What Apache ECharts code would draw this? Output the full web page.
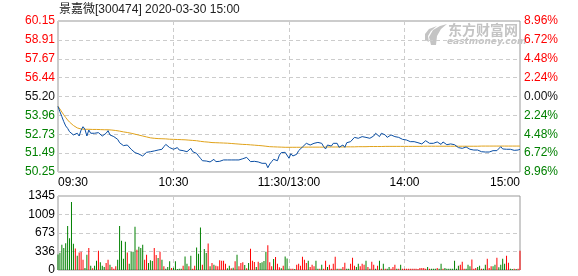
<!DOCTYPE html>
<html><head><meta charset="utf-8">
<script src="https://cdn.jsdelivr.net/npm/echarts@6.0.0/dist/echarts.min.js"></script>
<style>html,body{margin:0;padding:0;background:#fff}#c{width:578px;height:276px}</style>
</head><body><div id="c"></div>
<script>
const titleText = '景嘉微[300474] 2020-03-30 15:00';
const timeLabels = ['09:30', '10:30', '11:30/13:00', '14:00', '15:00'];
const priceLabels = ['50.25', '51.49', '52.73', '53.96', '55.20', '56.44', '57.67', '58.91', '60.15'];
const pctLabels = ['8.96%', '6.72%', '4.48%', '2.24%', '0.00%', '2.24%', '4.48%', '6.72%', '8.96%'];
const volLabels = ['0', '336', '673', '1009', '1345'];
const priceMin = 50.25, priceMax = 60.15, priceStep = 1.2375;
const volMax = 1345, volStep = 336.25;

// minute-by-minute last price (09:30 .. 15:00, 241 points)
const price = [
54.55,54.20,53.88,53.55,53.27,53.11,52.89,52.96,52.68,52.57,
52.79,52.61,53.00,53.22,53.05,52.61,53.00,52.79,52.83,52.79,
52.74,52.83,52.74,52.61,52.72,52.79,52.96,52.68,52.68,52.57,
52.52,52.39,52.17,52.06,51.98,52.09,52.02,51.91,51.74,51.63,
51.52,51.54,51.43,51.36,51.30,51.43,51.54,51.65,51.58,51.58,
51.63,51.58,51.69,51.69,51.74,51.91,52.06,51.95,51.85,51.91,
51.74,51.69,51.85,51.69,51.80,51.65,51.74,51.58,51.69,51.80,
51.58,51.58,51.47,51.30,51.15,50.99,50.93,50.97,50.86,50.91,
50.82,51.08,50.93,50.99,50.95,50.99,51.04,51.08,51.04,50.99,
51.04,50.97,51.04,50.99,51.04,50.99,51.12,51.25,51.21,51.08,
50.93,50.99,50.95,50.97,50.91,50.93,50.82,50.86,50.82,50.53,
50.77,50.93,51.08,51.21,50.99,51.36,51.52,51.52,51.54,51.55,
51.15,51.45,51.30,51.21,51.41,51.65,51.74,51.89,52.02,52.13,
52.17,52.02,51.91,52.13,52.22,52.19,52.17,52.13,51.91,51.76,
52.02,52.13,51.95,52.13,52.17,52.13,51.87,51.91,52.02,51.87,
52.17,52.19,52.24,52.35,52.52,52.57,52.46,52.52,52.57,52.61,
52.52,52.65,52.46,52.52,52.61,52.79,52.72,52.57,52.79,52.74,
52.68,52.52,52.57,52.68,52.61,52.57,52.50,52.52,52.46,52.39,
52.35,52.35,52.39,52.24,52.17,52.24,52.19,52.17,52.13,52.09,
52.17,52.30,52.19,52.13,52.17,52.13,52.04,52.22,52.30,52.06,
52.22,52.13,52.04,52.17,52.09,52.04,52.04,51.91,51.85,51.80,
51.80,51.82,51.89,51.80,51.74,51.80,51.69,51.74,51.69,51.69,
51.58,51.63,51.56,51.47,51.56,51.56,51.65,51.69,51.65,51.78,
51.91,51.76,51.78,51.74,51.69,51.74,51.69,51.67,51.74,51.69,
51.74
];

// minute-by-minute average price
const avgPrice = [
54.55,54.38,54.18,54.00,53.82,53.66,53.52,53.40,53.30,53.21,
53.14,53.10,53.07,53.06,53.05,53.05,53.05,53.05,53.04,53.04,
53.04,53.03,53.03,53.03,53.02,53.02,53.02,53.01,53.00,52.99,
52.97,52.95,52.93,52.91,52.88,52.86,52.84,52.82,52.79,52.76,
52.73,52.70,52.67,52.64,52.61,52.58,52.55,52.52,52.49,52.47,
52.46,52.45,52.44,52.43,52.43,52.42,52.42,52.41,52.40,52.40,
52.39,52.39,52.38,52.38,52.37,52.36,52.36,52.35,52.34,52.33,
52.32,52.31,52.30,52.28,52.26,52.24,52.23,52.22,52.21,52.19,
52.18,52.17,52.17,52.16,52.16,52.15,52.15,52.14,52.14,52.13,
52.12,52.11,52.10,52.09,52.08,52.07,52.06,52.06,52.05,52.04,
52.03,52.02,52.01,52.00,51.99,51.98,51.97,51.96,51.94,51.93,
51.91,51.90,51.90,51.89,51.89,51.88,51.88,51.88,51.87,51.87,
51.87,51.87,51.87,51.87,51.87,51.87,51.87,51.87,51.88,51.88,
51.88,51.88,51.88,51.88,51.88,51.88,51.88,51.88,51.88,51.88,
51.89,51.89,51.89,51.89,51.89,51.89,51.89,51.89,51.89,51.89,
51.90,51.90,51.90,51.90,51.90,51.91,51.91,51.91,51.91,51.91,
51.91,51.91,51.92,51.92,51.92,51.92,51.92,51.92,51.92,51.92,
51.93,51.93,51.93,51.93,51.93,51.93,51.93,51.93,51.93,51.93,
51.93,51.93,51.93,51.93,51.93,51.93,51.93,51.93,51.93,51.93,
51.94,51.94,51.94,51.94,51.94,51.94,51.94,51.94,51.94,51.94,
51.94,51.94,51.94,51.94,51.94,51.94,51.94,51.94,51.94,51.94,
51.94,51.94,51.94,51.94,51.94,51.94,51.94,51.94,51.94,51.94,
51.95,51.95,51.95,51.95,51.95,51.95,51.95,51.95,51.95,51.95,
51.95,51.95,51.95,51.95,51.95,51.95,51.95,51.95,51.95,51.95,
51.95
];

// minute volume (lots)
const volume = [
280,314,458,398,488,802,579,1236,476,392,
259,320,332,187,36,277,398,78,30,78,
169,350,139,78,54,127,187,96,54,24,
66,187,802,530,205,512,320,115,332,332,
784,368,422,398,458,187,277,127,175,163,
398,271,217,332,187,66,24,54,157,36,
42,157,18,24,24,78,247,115,66,259,
24,78,410,295,772,96,380,307,482,66,
127,96,78,66,175,169,169,115,30,78,
30,42,157,277,66,127,139,90,30,127,
386,169,145,54,151,127,139,163,332,452,
139,66,199,235,115,48,30,78,247,211,
24,24,24,18,96,115,78,241,187,127,
169,54,96,66,169,24,24,96,24,169,
54,96,24,115,241,24,24,24,54,133,
24,24,115,223,78,54,115,66,115,96,
169,54,24,151,96,24,78,169,24,115,
24,24,54,24,54,96,24,24,96,24,
24,24,24,24,24,24,24,18,36,36,
36,24,54,24,24,24,24,36,24,115,
24,36,24,24,24,24,169,24,78,96,
151,24,24,96,66,193,24,36,54,78,
24,24,96,205,36,66,66,96,223,48,
96,205,115,259,133,24,18,24,18,24,
350
];
// 1 = up (red), -1 = down (green)
const volDir = [
-1,-1,-1,-1,-1,-1,-1,-1,-1,1,
-1,1,1,1,-1,-1,1,-1,1,-1,
-1,1,-1,-1,-1,1,1,-1,1,1,
1,-1,-1,-1,-1,-1,1,-1,-1,-1,
-1,1,-1,-1,-1,1,1,-1,-1,-1,
1,1,-1,1,-1,1,-1,-1,-1,1,
-1,-1,-1,-1,-1,1,-1,-1,1,-1,
1,1,-1,-1,-1,1,-1,-1,1,-1,
1,-1,1,1,1,1,1,1,-1,-1,
1,-1,1,-1,1,1,1,-1,1,-1,
1,1,1,-1,1,-1,-1,-1,-1,1,
1,1,-1,1,1,1,-1,1,-1,-1,
-1,1,1,-1,1,1,1,1,1,1,
-1,1,1,1,-1,-1,1,-1,1,1,
-1,1,1,1,1,-1,1,-1,1,1,
-1,-1,1,1,1,-1,-1,1,1,1,
-1,1,-1,1,1,-1,1,-1,1,-1,
1,-1,-1,1,1,1,-1,1,-1,1,
1,1,1,1,1,1,1,1,1,1,
1,1,-1,1,-1,-1,-1,1,-1,-1,
1,-1,-1,-1,-1,-1,-1,-1,-1,1,
1,1,-1,-1,-1,1,1,1,-1,-1,
1,-1,-1,1,1,1,-1,-1,1,-1,
-1,-1,-1,1,1,-1,-1,1,-1,1,
1
];

const RED = '#ff0000', GREEN = '#008000', DARK = '#111111';
const FONT = 'Arial, "Liberation Sans", "Noto Sans CJK SC", sans-serif';
const chart = echarts.init(document.getElementById('c'), null, {renderer: 'canvas'});

function pIdx(v) { return Math.round((v - priceMin) / priceStep); }
function rich() {
  return {
    r: {color: RED, fontSize: 12, fontFamily: FONT},
    g: {color: GREEN, fontSize: 12, fontFamily: FONT},
    d: {color: DARK, fontSize: 12, fontFamily: FONT}
  };
}
function tag(i) { return i > 4 ? 'r' : (i < 4 ? 'g' : 'd'); }

const splitDash = {show: true, lineStyle: {color: '#cccccc', type: [4, 3], width: 1}};

chart.setOption({
  animation: false,
  textStyle: {fontFamily: FONT},
  grid: [
    {left: 58, top: 21, width: 462, height: 151, show: true, borderColor: '#999999', borderWidth: 1, backgroundColor: 'transparent'},
    {left: 58, top: 196, width: 462, height: 74, show: true, borderColor: '#999999', borderWidth: 1, backgroundColor: 'transparent'}
  ],
  xAxis: [
    {type: 'value', gridIndex: 0, min: 0, max: 240, interval: 60,
     axisLine: {show: false}, axisTick: {show: false},
     splitLine: splitDash,
     axisLabel: {show: true, margin: 5, color: '#000', fontSize: 12, fontFamily: FONT,
       alignMinLabel: 'left', alignMaxLabel: 'right',
       formatter: (v) => timeLabels[Math.round(v / 60)]}},
    {type: 'value', gridIndex: 1, min: 0, max: 240, interval: 60,
     axisLine: {show: false}, axisTick: {show: false},
     splitLine: splitDash, axisLabel: {show: false}}
  ],
  yAxis: [
    {type: 'value', gridIndex: 0, min: priceMin, max: priceMax, interval: priceStep,
     axisLine: {show: false}, axisTick: {show: false}, splitLine: splitDash,
     axisLabel: {margin: 3, rich: rich(),
       formatter: (v) => { const i = pIdx(v); return '{' + tag(i) + '|' + priceLabels[i] + '}'; }}},
    {type: 'value', gridIndex: 0, position: 'right', min: priceMin, max: priceMax, interval: priceStep,
     axisLine: {show: false}, axisTick: {show: false}, splitLine: {show: false},
     axisLabel: {margin: 4, rich: rich(),
       formatter: (v) => { const i = pIdx(v); return '{' + tag(i) + '|' + pctLabels[i] + '}'; }}},
    {type: 'value', gridIndex: 1, min: 0, max: volMax, interval: volStep,
     axisLine: {show: false}, axisTick: {show: false}, splitLine: splitDash,
     axisLabel: {margin: 3, color: '#000', fontSize: 12, fontFamily: FONT,
       formatter: (v) => volLabels[Math.round(v / volStep)]}}
  ],
  graphic: [
    {type: 'text', x: 59, y: 4, style: {text: titleText, fill: '#222', font: '12px ' + FONT}},
    {type: 'polygon', silent: true, shape: {points: [[431,45],[429,37],[433,30],[440,26],[447,24],[441,29],[437,36],[436,45]]}, style: {fill: '#c4c4c4'}},
    {type: 'polygon', silent: true, shape: {points: [[425,40],[425,34],[429,29],[437,26],[431,31],[428,36],[429,42]]}, style: {fill: '#c4c4c4'}},
    {type: 'text', x: 448, y: 23, style: {text: '东方财富网', fill: '#c4c4c4', font: 'bold 14px "Noto Sans CJK SC"'}},
    {type: 'text', x: 447, y: 37, style: {text: 'eastmoney.com', fill: '#c4c4c4', font: 'italic bold 9px "DejaVu Sans", sans-serif'}}
  ],
  series: [
    {type: 'line', xAxisIndex: 0, yAxisIndex: 0, data: avgPrice.map((p, i) => [i, p]),
     showSymbol: false, lineStyle: {color: '#e0a21a', width: 1}, z: 3},
    {type: 'line', xAxisIndex: 0, yAxisIndex: 0, data: price.map((p, i) => [i, p]),
     showSymbol: false, lineStyle: {color: '#0a4ea3', width: 1}, z: 4},
    {type: 'bar', xAxisIndex: 1, yAxisIndex: 2, barWidth: 1,
     data: volume.map((v, i) => ({value: [i, v], itemStyle: {color: volDir[i] > 0 ? RED : GREEN}}))}
  ]
});
</script>
</body></html>
